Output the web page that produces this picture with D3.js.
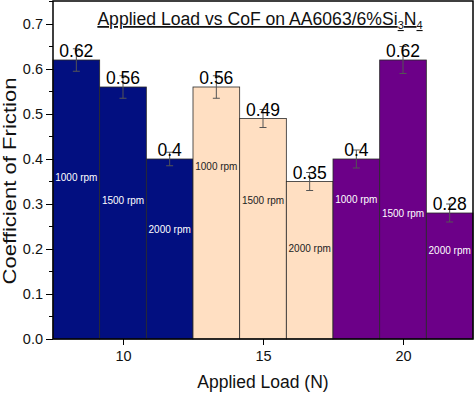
<!DOCTYPE html>
<html><head><meta charset="utf-8">
<script src="https://cdn.jsdelivr.net/npm/d3@7"></script>
<style>body{margin:0;background:#fff}svg{display:block}text{font-family:Arial,"Liberation Sans",sans-serif}</style>
</head><body>
<svg id="c" width="474" height="393"></svg>
<script>
// ---- data ----
const loads = [10, 15, 20];
const speeds = ["1000 rpm", "1500 rpm", "2000 rpm"];
const cof10 = [0.62, 0.56, 0.4];
const cof15 = [0.56, 0.49, 0.35];
const cof20 = [0.4, 0.62, 0.28];
const err10 = [0.025, 0.025, 0.015];
const err15 = [0.025, 0.02, 0.02];
const err20 = [0.02, 0.03, 0.02];
// heights (in CoF units) at which the rpm annotations sit inside the bars
const rpmLabelAt10 = [0.358, 0.307, 0.244];
const rpmLabelAt15 = [0.384, 0.308, 0.202];
const rpmLabelAt20 = [0.311, 0.28, 0.196];
const yTicks = [0, 0.1, 0.2, 0.3, 0.4, 0.5, 0.6, 0.7];
const xTicks = [10, 15, 20];
const groupColors = ["#020f80", "#ffdfc2", "#6c0088"];
const labelColors = ["#ffffff", "#222222", "#ffffff"];

const groups = loads.map((l, gi) => ({
  load: l,
  values: [cof10, cof15, cof20][gi],
  errs: [err10, err15, err20][gi],
  labelAt: [rpmLabelAt10, rpmLabelAt15, rpmLabelAt20][gi],
  color: groupColors[gi],
  labelColor: labelColors[gi]
}));
const bars = [];
groups.forEach((g, gi) => g.values.forEach((v, i) => bars.push({
  load: g.load, idx: i, value: v, err: g.errs[i], labelAt: g.labelAt[i],
  speed: speeds[i], color: g.color, labelColor: g.labelColor
})));

// ---- layout ----
const svg = d3.select("#c");
const L = 53, R = 473, T = 1.5, B = 339;
const x = d3.scaleLinear().domain([7.5, 22.5]).range([L, R]);
const y = d3.scaleLinear().domain([0, 0.75]).range([B, T]);
const bw = 5 / 3;

// bars
svg.append("g").selectAll("rect").data(bars).join("rect")
  .attr("x", d => x(d.load - 2.5 + d.idx * bw))
  .attr("width", d => x(d.load - 2.5 + (d.idx + 1) * bw) - x(d.load - 2.5 + d.idx * bw))
  .attr("y", d => y(d.value))
  .attr("height", d => y(0) - y(d.value))
  .attr("fill", d => d.color)
  .attr("stroke", "#2a2a2a").attr("stroke-width", 0.8);

// error bars
const eb = svg.append("g").attr("stroke", "#555").attr("stroke-width", 1).attr("fill", "none");
bars.forEach(d => {
  const cx = x(d.load - 2.5 + (d.idx + 0.5) * bw);
  eb.append("line").attr("x1", cx).attr("x2", cx).attr("y1", y(d.value + d.err)).attr("y2", y(d.value - d.err));
  [d.value + d.err, d.value - d.err].forEach(v =>
    eb.append("line").attr("x1", cx - 3.5).attr("x2", cx + 3.5).attr("y1", y(v)).attr("y2", y(v)));
});

// value labels
svg.append("g").selectAll("text").data(bars).join("text")
  .attr("x", d => x(d.load - 2.5 + (d.idx + 0.5) * bw))
  .attr("y", d => y(d.value) - 3)
  .attr("text-anchor", "middle").attr("font-size", 17.5).attr("fill", "#000")
  .text(d => String(d.value));

// rpm labels
svg.append("g").selectAll("text").data(bars).join("text")
  .attr("x", d => x(d.load - 2.5 + (d.idx + 0.5) * bw))
  .attr("y", d => y(d.labelAt))
  .attr("dy", "0.35em")
  .attr("text-anchor", "middle").attr("font-size", 10).attr("fill", d => d.labelColor)
  .text(d => d.speed);

// axes
const yAxis = svg.append("g").attr("transform", `translate(${L},0)`)
  .call(d3.axisLeft(y).tickValues(yTicks).tickFormat(d3.format(".1f")).tickSize(7).tickPadding(3));
yAxis.selectAll("text").attr("font-size", 14.5).attr("fill", "#111");
yAxis.select(".domain").remove();
// minor y ticks
svg.append("g").selectAll("line").data(yTicks.map(t => t + 0.05)).join("line")
  .attr("x1", L - 4).attr("x2", L).attr("y1", d => y(d)).attr("y2", d => y(d))
  .attr("stroke", "#000");

const xAxis = svg.append("g").attr("transform", `translate(0,${B})`)
  .call(d3.axisBottom(x).tickValues(xTicks).tickFormat(d3.format("d")).tickSize(6).tickPadding(6));
xAxis.selectAll("text").attr("font-size", 14.5).attr("fill", "#111");
xAxis.select(".domain").remove();

// frame
svg.append("rect").attr("x", L).attr("y", T - 0.5).attr("width", R - L).attr("height", B - T + 0.5)
  .attr("fill", "none").attr("stroke", "#000").attr("stroke-width", 1.5);

// title
const title = svg.append("text").attr("x", 260).attr("y", 25).attr("text-anchor", "middle")
  .attr("font-size", 17.6).attr("text-decoration", "underline").attr("fill", "#111");
title.append("tspan").text("Applied Load vs CoF on AA6063/6%Si");
title.append("tspan").attr("font-size", 11).attr("dy", 4).text("3");
title.append("tspan").attr("dy", -4).text("N");
title.append("tspan").attr("font-size", 11).attr("dy", 4).text("4");

// axis titles
svg.append("text").attr("x", 263).attr("y", 388).attr("text-anchor", "middle")
  .attr("font-size", 17.5).attr("fill", "#111").text("Applied Load (N)");
svg.append("text").attr("transform", `translate(16,181) rotate(-90)`)
  .attr("text-anchor", "middle").attr("font-size", 18)
  .attr("textLength", 207).attr("lengthAdjust", "spacingAndGlyphs")
  .attr("fill", "#111").text("Coefficient of Friction");
</script>
</body></html>
